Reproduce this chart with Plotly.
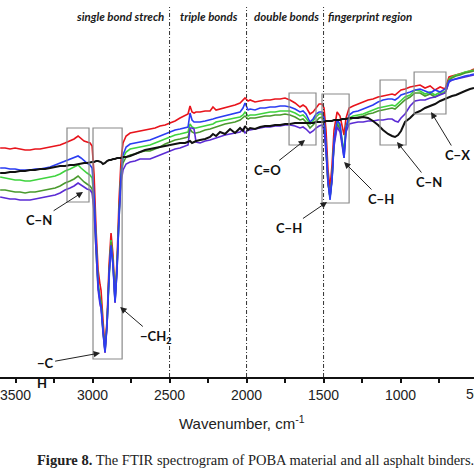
import plotly.graph_objects as go

# Wavenumber grid (cm-1)
wavenumber = [
    3600, 3568, 3536, 3503, 3471, 3438, 3406, 3373, 3341, 3308,
    3276, 3243, 3211, 3179, 3146, 3120, 3094, 3075, 3055, 3036,
    3016, 3003, 2990, 2977, 2964, 2951, 2945, 2932, 2919, 2906,
    2893, 2880, 2867, 2854, 2841, 2828, 2815, 2802, 2782, 2756,
    2724, 2692, 2659, 2627, 2594, 2562, 2529, 2497, 2464, 2432,
    2399, 2380, 2367, 2354, 2341, 2328, 2302, 2269, 2237, 2218,
    2198, 2172, 2140, 2107, 2075, 2042, 2023, 2010, 1990, 1977,
    1945, 1912, 1880, 1847, 1815, 1782, 1750, 1718, 1685, 1653,
    1633, 1614, 1588, 1568, 1549, 1529, 1510, 1497, 1484, 1471,
    1458, 1445, 1432, 1412, 1393, 1380, 1367, 1354, 1334, 1308,
    1276, 1243, 1211, 1179, 1146, 1114, 1081, 1055, 1036, 1016,
    997, 971, 938, 906, 873, 841, 808, 776, 743, 711,
    698, 685, 666, 640, 614, 581, 549, 523,
]

# Transmittance (arbitrary units)
red = [
    252, 252, 251, 252, 251, 250, 250, 251, 251, 252,
    253, 254, 255, 257, 259, 261, 264, 262, 259, 258,
    257, 254, 225, 170, 130, 115, 110, 80, 52, 80,
    135, 167, 145, 102, 140, 200, 240, 257, 264, 267,
    268, 269, 270, 271, 272, 274, 275, 277, 279, 282,
    285, 286, 294, 288, 287, 288, 288, 289, 289, 293,
    290, 291, 292, 294, 295, 297, 300, 302, 299, 300,
    298, 299, 300, 300, 301, 301, 302, 300, 297, 293,
    295, 293, 286, 288, 292, 296, 296, 292, 270, 230,
    212, 235, 270, 288, 284, 275, 265, 282, 292, 294,
    296, 298, 300, 301, 303, 304, 305, 306, 305, 308,
    310, 311, 313, 314, 315, 312, 314, 310, 313, 311,
    316, 323, 324, 325, 326, 328, 329, 331,
]
blue = [
    232, 232, 231, 231, 230, 230, 230, 231, 231, 232,
    233, 235, 237, 239, 241, 242, 244, 242, 239, 237,
    235, 232, 205, 155, 115, 97, 95, 70, 48, 75,
    125, 154, 135, 98, 130, 185, 225, 245, 253, 256,
    257, 258, 259, 260, 262, 264, 266, 268, 270, 271,
    272, 273, 287, 280, 278, 278, 278, 279, 280, 281,
    282, 283, 284, 286, 287, 288, 292, 297, 290, 291,
    290, 292, 292, 293, 293, 294, 294, 293, 291, 288,
    289, 286, 278, 281, 286, 288, 288, 282, 255, 220,
    200, 220, 260, 280, 276, 260, 242, 272, 285, 288,
    289, 291, 293, 295, 298, 300, 301, 301, 300, 302,
    305, 306, 308, 310, 311, 309, 307, 310, 308, 311,
    314, 319, 320, 321, 322, 324, 325, 326,
]
light_green = [
    223, 222, 221, 220, 220, 219, 219, 220, 221, 222,
    223, 224, 226, 229, 231, 233, 235, 232, 229, 227,
    225, 222, 200, 152, 117, 102, 98, 70, 50, 77,
    128, 160, 138, 100, 135, 190, 228, 242, 248, 251,
    252, 253, 254, 255, 257, 259, 261, 263, 265, 266,
    267, 268, 276, 273, 272, 272, 273, 274, 275, 276,
    278, 279, 280, 281, 282, 283, 285, 288, 284, 285,
    285, 286, 287, 288, 288, 289, 289, 289, 287, 284,
    285, 282, 276, 279, 283, 286, 286, 280, 252, 218,
    202, 222, 258, 279, 274, 262, 248, 274, 282, 284,
    285, 286, 288, 290, 292, 293, 294, 295, 294, 297,
    300, 303, 305, 310, 309, 306, 308, 305, 308, 308,
    314, 321, 323, 325, 326, 328, 329, 330,
]
dark_green = [
    210, 210, 209, 208, 208, 207, 208, 208, 209, 210,
    211, 212, 214, 217, 219, 221, 224, 221, 218, 216,
    214, 211, 192, 148, 113, 100, 97, 68, 49, 76,
    127, 158, 137, 99, 133, 188, 224, 237, 243, 245,
    246, 248, 249, 249, 251, 253, 256, 258, 260, 261,
    262, 263, 271, 268, 267, 267, 268, 270, 271, 272,
    273, 274, 276, 277, 278, 280, 282, 284, 281, 282,
    282, 283, 284, 284, 285, 285, 286, 285, 283, 280,
    281, 278, 272, 275, 279, 282, 283, 277, 250, 217,
    203, 222, 256, 276, 271, 260, 245, 272, 280, 282,
    283, 284, 286, 287, 289, 290, 291, 292, 291, 294,
    296, 300, 303, 307, 307, 304, 306, 303, 306, 307,
    312, 320, 322, 324, 325, 327, 328, 329,
]
purple = [
    203, 202, 201, 201, 200, 200, 200, 201, 202, 203,
    204, 205, 207, 210, 212, 214, 217, 215, 213, 211,
    210, 207, 188, 145, 110, 95, 92, 67, 47, 74,
    124, 155, 134, 97, 130, 182, 218, 230, 236, 238,
    239, 241, 241, 241, 243, 245, 247, 249, 251, 252,
    254, 255, 272, 272, 271, 258, 257, 259, 260, 261,
    262, 263, 265, 266, 267, 268, 271, 267, 270, 270,
    271, 272, 273, 273, 274, 274, 275, 275, 274, 272,
    273, 271, 267, 269, 272, 274, 275, 270, 248, 216,
    203, 220, 254, 273, 268, 255, 242, 268, 276, 277,
    278, 278, 279, 279, 280, 280, 281, 281, 279, 278,
    282, 286, 294, 299, 300, 300, 302, 303, 305, 307,
    312, 318, 320, 321, 322, 323, 324, 325,
]
black = [
    227, 227, 228, 228, 229, 229, 230, 230, 231, 231,
    232, 233, 234, 234, 235, 235, 236, 236, 237, 237,
    238, 238, 238, 239, 239, 238, 238, 236, 237, 239,
    240, 240, 241, 241, 242, 242, 242, 243, 243, 244,
    246, 248, 250, 251, 252, 253, 254, 255, 256, 257,
    257, 258, 259, 257, 258, 259, 260, 261, 263, 266,
    264, 268, 266, 271, 267, 272, 269, 274, 270, 272,
    271, 273, 274, 274, 275, 275, 276, 276, 277, 277,
    277, 277, 277, 277, 278, 278, 278, 278, 279, 279,
    279, 279, 280, 280, 280, 281, 281, 281, 282, 282,
    282, 283, 282, 279, 275, 270, 266, 264, 263, 265,
    269, 278, 282, 287, 289, 292, 294, 296, 299, 301,
    302, 303, 304, 305, 307, 309, 311, 312,
]

tick_values = [3500, 3000, 2500, 2000, 1500, 1000]
tick_labels = ["3500", "3000", "2500", "2000", "1500", "1000"]
minor_ticks = [3250, 2750, 2250, 1750, 1250, 750]
region_bounds = [2500, 2000, 1500]
region_names = ["single bond strech", "triple bonds", "double bonds", "fingerprint region"]
region_centers = [2821, 2244, 1743, 1198]

fig = go.Figure()

series = [
    (red, "#e8141c", 1.6),
    (light_green, "#3fd43f", 1.6),
    (dark_green, "#4a9a2e", 1.6),
    (purple, "#5b2bd4", 1.6),
    (blue, "#2b3df2", 1.6),
    (black, "#111111", 2.0),
]
for ys, col, w in series:
    fig.add_trace(go.Scatter(x=wavenumber, y=ys, mode="lines",
                             line=dict(color=col, width=w), showlegend=False,
                             hoverinfo="skip"))

# region dividers
for b in region_bounds:
    fig.add_shape(type="line", x0=b, x1=b, y0=23, y1=393, xref="x", yref="y",
                  line=dict(color="#333333", width=1, dash="4px,2px,1px,2px"))

# boxes
boxes = [
    (3166, 3023, 272, 198),
    (2997, 2808, 272, 41),
    (1724, 1549, 307, 255),
    (1510, 1334, 306, 197),
    (1133, 964, 320, 255),
    (912, 705, 328, 286),
]
for x0, x1, y0, y1 in boxes:
    fig.add_shape(type="rect", x0=x0, x1=x1, y0=y0, y1=y1, xref="x", yref="y",
                  line=dict(color="#8a8a8a", width=1.2), fillcolor="rgba(0,0,0,0)")

for name, cx in zip(region_names, region_centers):
    fig.add_annotation(x=cx, y=384, xref="x", yref="y", text="<b><i>" + name + "</i></b>",
                       showarrow=False, font=dict(family="Lato", size=11.5, color="#1a1a1a"))

lab_font = dict(family="Lato", size=13, color="#111111")
arrows = [
    ("C\u2212N", 3347, 180, 3062, 208),
    ("C=O", 1867, 230, 1620, 260),
    ("C\u2212H", 1127, 201, 1367, 238),
    ("C\u2212H", 1724, 172, 1477, 198),
    ("C\u2212N", 815, 218, 1023, 258),
    ("C\u2212X", 633, 245, 802, 288),
    ("\u2212CH<sub>2</sub>", 2594, 63, 2821, 93),
    ("\u2212C", 3308, 37, 2951, 47),
]
for txt, tx, ty, hx, hy in arrows:
    fig.add_annotation(x=hx, y=hy, ax=tx, ay=ty, xref="x", yref="y", axref="x", ayref="y",
                       text="<b>" + txt + "</b>", showarrow=True, arrowhead=2, arrowsize=1.3,
                       arrowwidth=1, arrowcolor="#222222", font=lab_font, standoff=0)

fig.add_annotation(x=42 / 474, y=-0.016, xref="paper", yref="paper", text="<b>H</b>",
                   showarrow=False, font=lab_font, xanchor="center", yanchor="middle")

fig.add_annotation(x=477.5 / 474, y=-0.045, xref="paper", yref="paper", text="500",
                   showarrow=False, xanchor="center", yanchor="middle",
                   font=dict(family="Liberation Sans", size=14, color="#222222"))

fig.add_annotation(x=242 / 474, y=-0.122, xref="paper", yref="paper",
                   text="Wavenumber, cm<sup>-1</sup>", showarrow=False,
                   xanchor="center", yanchor="middle",
                   font=dict(family="Liberation Sans", size=15, color="#222222"))

fig.add_annotation(x=256 / 474, y=-0.220, xref="paper", yref="paper",
                   text="<b>Figure 8.</b> The FTIR spectrogram of POBA material and all asphalt binders.",
                   showarrow=False, xanchor="center", yanchor="middle",
                   font=dict(family="Liberation Serif", size=14.5, color="#222222"))

fig.update_xaxes(range=[3601, 523], showgrid=False, zeroline=False,
                 showline=True, linecolor="#111111", linewidth=2,
                 ticks="outside", ticklen=4, tickwidth=2, tickcolor="#111111",
                 tickvals=tick_values, ticktext=tick_labels, ticklabeloverflow="allow",
                 tickfont=dict(family="Liberation Sans", size=14, color="#222222"),
                 minor=dict(tickvals=minor_ticks, ticks="outside",
                            ticklen=4, tickwidth=2, tickcolor="#111111"))
fig.update_yaxes(range=[23, 400], showgrid=False, zeroline=False, showline=False,
                 showticklabels=False, ticks="")

fig.update_layout(width=474, height=474, margin=dict(l=0, r=0, t=0, b=97),
                  plot_bgcolor="white", paper_bgcolor="white")

fig.write_html("out.html")
